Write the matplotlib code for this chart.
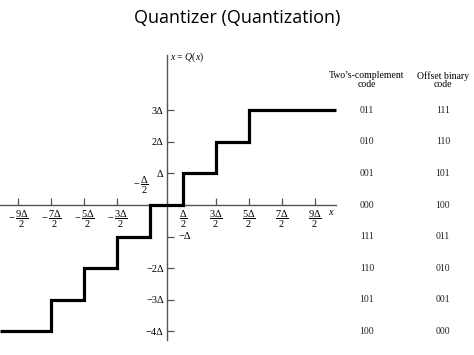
import matplotlib
matplotlib.use("Agg")
import matplotlib.pyplot as plt
import matplotlib.transforms as mtransforms

# ---- data (in units of Delta) ----
step_edges = [-5.05, -3.5, -2.5, -1.5, -0.5, 0.5, 1.5, 2.5, 5.15]
step_levels = [-4, -3, -2, -1, 0, 1, 2, 3]

x_tick_pos = [-4.5, -3.5, -2.5, -1.5, 0.5, 1.5, 2.5, 3.5, 4.5]
x_tick_labels = [r'$-\,\dfrac{9\Delta}{2}$', r'$-\,\dfrac{7\Delta}{2}$', r'$-\,\dfrac{5\Delta}{2}$',
                 r'$-\,\dfrac{3\Delta}{2}$', r'$\dfrac{\Delta}{2}$', r'$\dfrac{3\Delta}{2}$',
                 r'$\dfrac{5\Delta}{2}$', r'$\dfrac{7\Delta}{2}$', r'$\dfrac{9\Delta}{2}$']

y_tick_pos = [3, 2, 1, -1, -2, -3, -4]
y_tick_labels = ['3Δ', '2Δ', 'Δ', '', '−2Δ', '−3Δ', '−4Δ']

code_levels = [3, 2, 1, 0, -1, -2, -3, -4]
twos_complement = ['011', '010', '001', '000', '111', '110', '101', '100']
offset_binary = ['111', '110', '101', '100', '011', '010', '001', '000']

plt.rcParams['mathtext.fontset'] = 'custom'
plt.rcParams['mathtext.rm'] = 'Liberation Serif'
plt.rcParams['mathtext.it'] = 'Liberation Serif:italic'
plt.rcParams['mathtext.bf'] = 'Liberation Serif:bold'
plt.rcParams['font.family'] = ['Liberation Serif', 'DejaVu Serif']

W, H = 474, 355
fig = plt.figure(figsize=(W / 100, H / 100), dpi=100)
ax = fig.add_axes([0, 0, 1, 1])
ax.patch.set_alpha(0)

# pixel mapping: x0 at px 166.5, 33 px per Delta; y0 at py 205, 31.6 px per Delta
ux, uy = 33.0, 31.6
x0p, y0p = 166.5, 205.0
ax.set_xlim((0 - x0p) / ux, (W - x0p) / ux)
ax.set_ylim((y0p - H) / uy, (y0p - 0) / uy)

axis_color = '#555555'
for s in ['top', 'right']:
    ax.spines[s].set_visible(False)
ax.spines['left'].set_position(('data', 0))
ax.spines['bottom'].set_position(('data', 0))
ax.spines['left'].set_bounds((y0p - 340) / uy, (y0p - 55) / uy)
ax.spines['bottom'].set_bounds((0 - x0p) / ux, (336 - x0p) / ux)
for s in ['left', 'bottom']:
    ax.spines[s].set_color(axis_color)
    ax.spines[s].set_linewidth(1.0)

ax.stairs(step_levels, step_edges, baseline=None, color='black', linewidth=2.3, zorder=3)

ax.set_xticks(x_tick_pos)
ax.set_xticklabels(x_tick_labels)
ax.set_yticks(y_tick_pos)
ax.set_yticklabels(y_tick_labels)
ax.tick_params(axis='x', direction='in', length=5, width=0.9, color=axis_color, labelsize=7.5, pad=3)
ax.tick_params(axis='y', direction='in', length=5, width=0.9, color=axis_color, labelsize=7.5, pad=2)

# extra labels
ax.text(0.35, -1, '−Δ', ha='left', va='center', fontsize=7.5)
ax.text(-0.55, 0.3, r'$-\,\dfrac{\Delta}{2}$', ha='right', va='bottom', fontsize=7.5)
ax.text(5.0, -0.25, r'$x$', ha='center', va='center', fontsize=7.5)
ax.text(0.12, (y0p - 57) / uy, r'$x$ = $Q(x)$', ha='left', va='center', fontsize=7)

# code table
col1_x = (367 - x0p) / ux
col2_x = (443 - x0p) / ux
ax.text(col1_x, (y0p - 80) / uy, "Two’s-complement\ncode", ha='center', va='center',
        fontsize=7, linespacing=0.9)
ax.text(col2_x, (y0p - 80) / uy, "Offset binary\ncode", ha='center', va='center',
        fontsize=7, linespacing=0.9)
for lvl, a, b in zip(code_levels, twos_complement, offset_binary):
    ax.text(col1_x, lvl, a, ha='center', va='center', fontsize=7, color='#222222')
    ax.text(col2_x, lvl, b, ha='center', va='center', fontsize=7, color='#222222')

fig.text(0.5, 1 - 18 / H, 'Quantizer (Quantization)', ha='center', va='center',
         fontsize=13, family='Open Sans')

fig.savefig('out.png', dpi=100)
